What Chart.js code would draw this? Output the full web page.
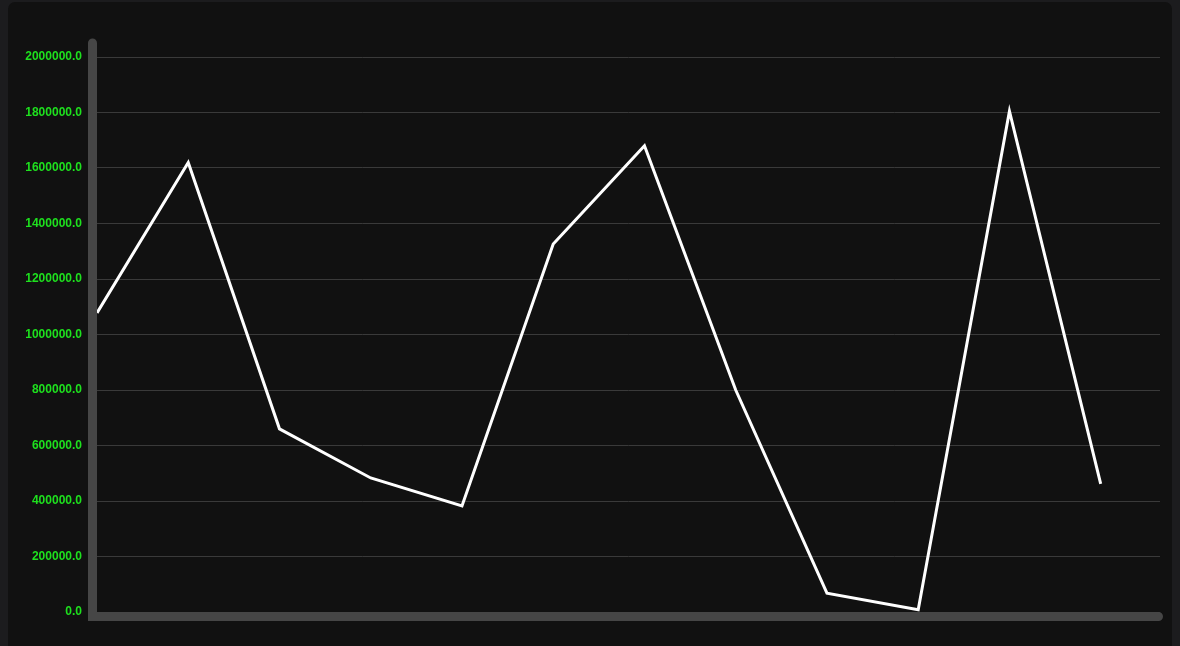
<!DOCTYPE html>
<html>
<head>
<meta charset="utf-8">
<script src="https://cdn.jsdelivr.net/npm/chart.js@4.4.1/dist/chart.umd.min.js"></script>
<style>
  html, body { margin: 0; padding: 0; background: #1c1c1e; overflow: hidden; }
  .panel {
    position: absolute; left: 8px; top: 2px; width: 1164px; height: 660px;
    background: #111111; border-radius: 7px;
  }
  .wrap { position: absolute; left: 0; top: 0; width: 1180px; height: 646px; }
</style>
</head>
<body>
<div class="panel"></div>
<div class="wrap"><canvas id="lineChart"></canvas></div>
<script>
// point positions along the x axis
const pointIndex = [0, 1, 2, 3, 4, 5, 6, 7, 8, 9, 10, 11];
// series values
const seriesValues = [1078000, 1620000, 660000, 483000, 382000, 1326000,
                      1680000, 800000, 68000, 8000, 1805000, 462000];
// y axis range and step
const yMin = 0;
const yMax = 2000000;
const yStep = 200000;
const xMax = 11.65;

// thick rounded axis bars drawn under the line
const axisBars = {
    id: 'axisBars',
    beforeDatasetsDraw(chart) {
        const ctx = chart.ctx;
        const area = chart.chartArea;
        ctx.save();
        ctx.strokeStyle = '#464646';
        ctx.lineWidth = 9;
        ctx.lineCap = 'round';
        ctx.beginPath();
        ctx.moveTo(area.left - 4.5, area.top - 14);
        ctx.lineTo(area.left - 4.5, area.bottom + 4.5);
        ctx.lineTo(area.right - 1.5, area.bottom + 4.5);
        ctx.stroke();
        ctx.restore();
    }
};

const ctx = document.getElementById('lineChart');
new Chart(ctx, {
    type: 'line',
    data: {
        datasets: [{
            data: pointIndex.map((x, i) => ({ x: x, y: seriesValues[i] })),
            borderColor: '#ffffff',
            borderWidth: 3,
            borderJoinStyle: 'miter',
            pointRadius: 0,
            tension: 0,
            fill: false
        }]
    },
    options: {
        responsive: true,
        maintainAspectRatio: false,
        animation: false,
        layout: { padding: { top: 57, right: 20, bottom: 34, left: 0 } },
        plugins: { legend: { display: false }, tooltip: { enabled: false } },
        scales: {
            x: {
                type: 'linear',
                min: 0,
                max: xMax,
                display: false
            },
            y: {
                min: yMin,
                max: yMax,
                border: { display: false },
                grid: { color: '#3a3a3a', lineWidth: 1, drawTicks: false },
                ticks: {
                    stepSize: yStep,
                    padding: 15,
                    color: '#1ee01e',
                    font: { family: 'Liberation Sans, Arial, sans-serif', size: 12, weight: 'bold' },
                    callback: v => Number(v).toFixed(1)
                },
                afterFit(scale) { scale.width = 97; }
            }
        }
    },
    plugins: [axisBars]
});
</script>
</body>
</html>
